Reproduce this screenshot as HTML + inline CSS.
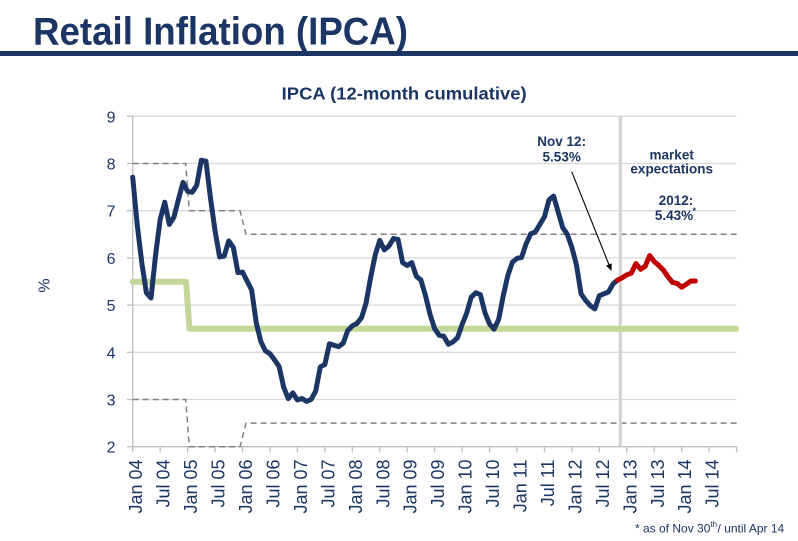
<!DOCTYPE html>
<html>
<head>
<meta charset="utf-8">
<style>
  html,body{margin:0;padding:0;background:#fff;}
  svg{display:block;}
  text{font-family:"Liberation Sans",Arial,sans-serif;fill:#1b3564;}
</style>
</head>
<body>
<svg width="798" height="541" viewBox="0 0 798 541" xmlns="http://www.w3.org/2000/svg">
  <rect x="0" y="0" width="798" height="541" fill="#fff"/>
  <!-- Title -->
  <text x="33" y="44.5" font-size="38.5" font-weight="bold" textLength="375" lengthAdjust="spacingAndGlyphs">Retail Inflation (IPCA)</text>
  <rect x="0" y="51" width="798" height="5" fill="#1b3564"/>

  <!-- Chart title -->
  <text x="281.7" y="99.3" font-size="17.5" font-weight="bold" textLength="245" lengthAdjust="spacingAndGlyphs">IPCA (12-month cumulative)</text>

  <!-- gridlines -->
  <g stroke="#d9d9d9" stroke-width="1.3">
    <line x1="132.7" y1="116.3" x2="736.6" y2="116.3"/>
    <line x1="132.7" y1="163.5" x2="736.6" y2="163.5"/>
    <line x1="132.7" y1="210.7" x2="736.6" y2="210.7"/>
    <line x1="132.7" y1="257.9" x2="736.6" y2="257.9"/>
    <line x1="132.7" y1="305.1" x2="736.6" y2="305.1"/>
    <line x1="132.7" y1="352.3" x2="736.6" y2="352.3"/>
    <line x1="132.7" y1="399.5" x2="736.6" y2="399.5"/>
  </g>
  <!-- axes -->
  <g stroke="#bfbfbf" stroke-width="1.3">
    <line x1="132.7" y1="116" x2="132.7" y2="446.7"/>
    <line x1="132.7" y1="446.7" x2="736.6" y2="446.7"/>
    <line x1="127" y1="116.3" x2="132.7" y2="116.3"/>
    <line x1="127" y1="163.5" x2="132.7" y2="163.5"/>
    <line x1="127" y1="210.7" x2="132.7" y2="210.7"/>
    <line x1="127" y1="257.9" x2="132.7" y2="257.9"/>
    <line x1="127" y1="305.1" x2="132.7" y2="305.1"/>
    <line x1="127" y1="352.3" x2="132.7" y2="352.3"/>
    <line x1="127" y1="399.5" x2="132.7" y2="399.5"/>
    <line x1="127" y1="446.7" x2="132.7" y2="446.7"/>
    <!-- x ticks every 6 months -->
    <line x1="132.7" y1="446.7" x2="132.7" y2="452.5"/>
    <line x1="160.15" y1="446.7" x2="160.15" y2="452.5"/>
    <line x1="187.6" y1="446.7" x2="187.6" y2="452.5"/>
    <line x1="215.05" y1="446.7" x2="215.05" y2="452.5"/>
    <line x1="242.5" y1="446.7" x2="242.5" y2="452.5"/>
    <line x1="269.95" y1="446.7" x2="269.95" y2="452.5"/>
    <line x1="297.4" y1="446.7" x2="297.4" y2="452.5"/>
    <line x1="324.85" y1="446.7" x2="324.85" y2="452.5"/>
    <line x1="352.3" y1="446.7" x2="352.3" y2="452.5"/>
    <line x1="379.75" y1="446.7" x2="379.75" y2="452.5"/>
    <line x1="407.2" y1="446.7" x2="407.2" y2="452.5"/>
    <line x1="434.65" y1="446.7" x2="434.65" y2="452.5"/>
    <line x1="462.1" y1="446.7" x2="462.1" y2="452.5"/>
    <line x1="489.55" y1="446.7" x2="489.55" y2="452.5"/>
    <line x1="517.0" y1="446.7" x2="517.0" y2="452.5"/>
    <line x1="544.45" y1="446.7" x2="544.45" y2="452.5"/>
    <line x1="571.9" y1="446.7" x2="571.9" y2="452.5"/>
    <line x1="599.35" y1="446.7" x2="599.35" y2="452.5"/>
    <line x1="626.8" y1="446.7" x2="626.8" y2="452.5"/>
    <line x1="654.25" y1="446.7" x2="654.25" y2="452.5"/>
    <line x1="681.7" y1="446.7" x2="681.7" y2="452.5"/>
    <line x1="709.15" y1="446.7" x2="709.15" y2="452.5"/>
    <line x1="736.6" y1="446.7" x2="736.6" y2="452.5"/>
  </g>

  <!-- y labels -->
  <g font-size="16" text-anchor="end">
    <text x="115.5" y="122.3">9</text>
    <text x="115.5" y="169.5">8</text>
    <text x="115.5" y="216.7">7</text>
    <text x="115.5" y="263.9">6</text>
    <text x="115.5" y="311.1">5</text>
    <text x="115.5" y="358.3">4</text>
    <text x="115.5" y="405.5">3</text>
    <text x="115.5" y="452.7">2</text>
  </g>
  <text font-size="16" text-anchor="middle" transform="translate(49.5,285.5) rotate(-90)">%</text>

  <!-- x labels -->
  <g font-size="18" text-anchor="end">
    <text transform="translate(142.2,459.5) rotate(-90)">Jan 04</text>
    <text transform="translate(169.65,459.5) rotate(-90)">Jul 04</text>
    <text transform="translate(197.1,459.5) rotate(-90)">Jan 05</text>
    <text transform="translate(224.55,459.5) rotate(-90)">Jul 05</text>
    <text transform="translate(252.0,459.5) rotate(-90)">Jan 06</text>
    <text transform="translate(279.45,459.5) rotate(-90)">Jul 06</text>
    <text transform="translate(306.9,459.5) rotate(-90)">Jan 07</text>
    <text transform="translate(334.35,459.5) rotate(-90)">Jul 07</text>
    <text transform="translate(361.8,459.5) rotate(-90)">Jan 08</text>
    <text transform="translate(389.25,459.5) rotate(-90)">Jul 08</text>
    <text transform="translate(416.7,459.5) rotate(-90)">Jan 09</text>
    <text transform="translate(444.15,459.5) rotate(-90)">Jul 09</text>
    <text transform="translate(471.6,459.5) rotate(-90)">Jan 10</text>
    <text transform="translate(499.05,459.5) rotate(-90)">Jul 10</text>
    <text transform="translate(526.5,459.5) rotate(-90)">Jan 11</text>
    <text transform="translate(553.95,459.5) rotate(-90)">Jul 11</text>
    <text transform="translate(581.4,459.5) rotate(-90)">Jan 12</text>
    <text transform="translate(608.85,459.5) rotate(-90)">Jul 12</text>
    <text transform="translate(636.3,459.5) rotate(-90)">Jan 13</text>
    <text transform="translate(663.75,459.5) rotate(-90)">Jul 13</text>
    <text transform="translate(691.2,459.5) rotate(-90)">Jan 14</text>
    <text transform="translate(718.65,459.5) rotate(-90)">Jul 14</text>
  </g>

  <!-- dashed bands -->
  <g fill="none" stroke="#808080" stroke-width="1.5" stroke-dasharray="6 4">
    <polyline points="132.7,163.5 185.7,163.5 189.3,210.7 240,210.7 246,234.3 736.6,234.3"/>
    <polyline points="132.7,399.5 185.7,399.5 189.3,446.7 240,446.7 246,423.1 736.6,423.1"/>
  </g>

  <!-- separator -->
  <line x1="620.3" y1="116" x2="620.3" y2="446.7" stroke="#d3d3d3" stroke-width="3.3"/>

  <!-- target line (green) -->
  <polyline points="132.7,281.7 186,281.7 189.5,328.7 736,328.7" fill="none" stroke="#c4d79b" stroke-width="6" stroke-linejoin="round" stroke-linecap="round"/>

  <!-- data series (data coords: month index, percent) -->
  <g transform="matrix(4.575 0 0 -47.2 132.7 541.1)">
    <polyline fill="none" stroke="#1b3564" stroke-width="5" stroke-linejoin="round" stroke-linecap="round" vector-effect="non-scaling-stroke"
      points="0,7.71 1,6.69 2,5.89 3,5.26 4,5.15 5,6.06 6,6.81 7,7.18 8,6.71 9,6.86 10,7.24 11,7.60
              12,7.41 13,7.39 14,7.54 15,8.07 16,8.05 17,7.27 18,6.57 19,6.02 20,6.04 21,6.36 22,6.22 23,5.69
              24,5.70 25,5.51 26,5.32 27,4.63 28,4.23 29,4.03 30,3.97 31,3.84 32,3.70 33,3.26 34,3.02 35,3.14
              36,2.99 37,3.02 38,2.96 39,3.00 40,3.18 41,3.69 42,3.74 43,4.18 44,4.15 45,4.12 46,4.19 47,4.46
              48,4.56 49,4.61 50,4.73 51,5.04 52,5.58 53,6.06 54,6.37 55,6.17 56,6.25 57,6.41 58,6.39 59,5.90
              60,5.84 61,5.90 62,5.61 63,5.53 64,5.20 65,4.80 66,4.50 67,4.36 68,4.34 69,4.17 70,4.22 71,4.31
              72,4.59 73,4.83 74,5.17 75,5.26 76,5.22 77,4.84 78,4.60 79,4.49 80,4.70 81,5.20 82,5.63 83,5.91
              84,5.99 85,6.01 86,6.30 87,6.51 88,6.55 89,6.71 90,6.87 91,7.23 92,7.31 93,6.97 94,6.64 95,6.50
              96,6.22 97,5.85 98,5.24 99,5.10 100,4.99 101,4.92 102,5.20 103,5.24 104,5.28 105,5.45 106,5.53"/>
    <polyline fill="none" stroke="#c00000" stroke-width="5" stroke-linejoin="round" stroke-linecap="round" vector-effect="non-scaling-stroke"
      points="106,5.53 107,5.58 108,5.64 109,5.68 110,5.88 111,5.76 112,5.82 113,6.05 114,5.92 115,5.84 116,5.74 117,5.60 118,5.48 119,5.46 120,5.38 121,5.44 122,5.51 123,5.51"/>
  </g>

  <!-- arrow -->
  <line x1="571.7" y1="171.7" x2="608.9" y2="264.5" stroke="#000" stroke-width="1.1"/>
  <polygon points="611.5,271 611.7,263.4 606.1,265.6" fill="#000"/>

  <!-- annotations -->
  <g font-size="13.5" font-weight="bold" text-anchor="middle">
    <text x="561.7" y="146">Nov 12:</text>
    <text x="561.7" y="161.7">5.53%</text>
    <text x="671.7" y="159.3">market</text>
    <text x="671.7" y="173.3">expectations</text>
    <text x="676" y="205">2012:</text>
    <text x="674" y="220">5.43%</text>
  </g>
  <text x="692.5" y="214" font-size="9" font-weight="bold">*</text>

  <!-- footnote -->
  <text x="635" y="532.3" font-size="12">* as of Nov 30</text>
  <text x="710.4" y="527" font-size="8">th</text>
  <text x="717.5" y="532.3" font-size="12">/ until Apr 14</text>
</svg>
</body>
</html>
